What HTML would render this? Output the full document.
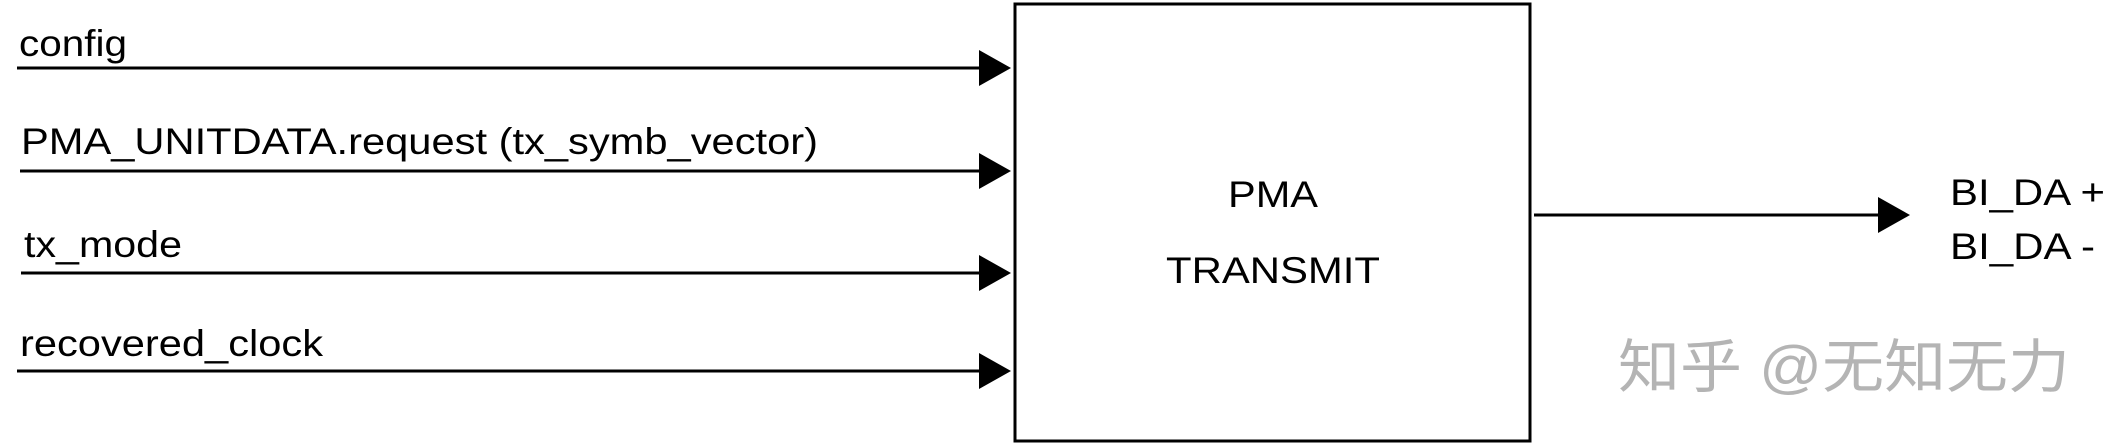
<!DOCTYPE html>
<html><head><meta charset="utf-8"><style>html,body{margin:0;padding:0;background:#fff}svg{display:block}</style></head>
<body>
<svg width="2121" height="444" viewBox="0 0 2121 444" xmlns="http://www.w3.org/2000/svg" font-family="Liberation Sans, Arial, sans-serif" font-size="37" fill="#000">
<rect width="2121" height="444" fill="#fff"/>
<rect x="1015" y="4" width="515" height="437" fill="none" stroke="#000" stroke-width="3"/>
<g stroke="#000" stroke-width="3">
<line x1="17" y1="68" x2="982" y2="68"/>
<line x1="20" y1="171" x2="982" y2="171"/>
<line x1="21" y1="273" x2="982" y2="273"/>
<line x1="17" y1="371" x2="982" y2="371"/>
<line x1="1534" y1="215" x2="1882" y2="215"/>
</g>
<polygon points="979,50 1011,68 979,86"/>
<polygon points="979,153 1011,171 979,189"/>
<polygon points="979,255 1011,273 979,291"/>
<polygon points="979,353 1011,371 979,389"/>
<polygon points="1878,197 1910,215 1878,233"/>
<text x="19" y="56" textLength="108" lengthAdjust="spacingAndGlyphs">config</text>
<text x="21" y="154" textLength="797" lengthAdjust="spacingAndGlyphs">PMA_UNITDATA.request (tx_symb_vector)</text>
<text x="24" y="257" textLength="158" lengthAdjust="spacingAndGlyphs">tx_mode</text>
<text x="20" y="356" textLength="303" lengthAdjust="spacingAndGlyphs">recovered_clock</text>
<text x="1228" y="207" textLength="90" lengthAdjust="spacingAndGlyphs">PMA</text>
<text x="1166" y="283" textLength="214" lengthAdjust="spacingAndGlyphs">TRANSMIT</text>
<text x="1950" y="205" textLength="155" lengthAdjust="spacingAndGlyphs">BI_DA +</text>
<text x="1950" y="259" textLength="145" lengthAdjust="spacingAndGlyphs">BI_DA -</text>
<text x="1618" y="387" font-size="58" fill="#b4b4b4" font-family="Liberation Sans, Noto Sans CJK SC, sans-serif" textLength="452" lengthAdjust="spacingAndGlyphs">知乎 @无知无力</text>
</svg>
</body></html>
